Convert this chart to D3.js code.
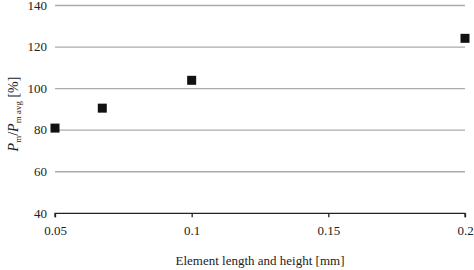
<!DOCTYPE html>
<html>
<head>
<meta charset="utf-8">
<script src="https://cdn.jsdelivr.net/npm/d3@7"></script>
<style>
  body { margin: 0; background: #fff; }
  svg { display: block; }
  text { font-family: "Liberation Serif", "DejaVu Serif", serif; fill: #222; }
</style>
</head>
<body>
<svg id="chart"></svg>
<script>
const elementSize = [0.05, 0.0673, 0.1, 0.2]
const pressureRatio = [81, 90.6, 104, 124.2]
const xTicks = [0.05, 0.1, 0.15, 0.2]
const yTicks = [40, 60, 80, 100, 120, 140]

const width = 474
const height = 270
const margins = {left: 55, right: 9, top: 5.5, bottom: 56.7}

const svg = d3.select("#chart").attr("width", width).attr("height", height)

const scaleX = d3.scaleLinear().domain([0.05, 0.2]).range([margins.left, width - margins.right])
const scaleY = d3.scaleLinear().domain([40, 140]).range([height - margins.bottom, margins.top])

// grid lines
svg.append("g")
    .selectAll("line")
    .data(yTicks.filter(d => d > 40))
    .join("line")
    .attr("x1", scaleX(0.05))
    .attr("x2", scaleX(0.2))
    .attr("y1", d => scaleY(d))
    .attr("y2", d => scaleY(d))
    .attr("stroke", "#a7adad")
    .attr("stroke-width", 1.3)

// y axis labels
svg.append("g")
    .selectAll("text")
    .data(yTicks)
    .join("text")
    .attr("x", margins.left - 8)
    .attr("y", d => scaleY(d))
    .attr("dy", "0.33em")
    .attr("text-anchor", "end")
    .attr("font-size", 13)
    .text(d => d)

// x axis
let xAxis = d3.axisBottom(scaleX).tickValues(xTicks).tickSize(4).tickFormat(d => d)
let xg = svg.append("g")
    .attr("transform", `translate(0, ${scaleY(40)})`)
    .call(xAxis)
xg.select(".domain").attr("stroke", "#222").attr("stroke-width", 1.3).attr("d", `M${scaleX(0.05)},4V0H${scaleX(0.2)}V4`)
xg.selectAll(".tick line").attr("stroke", "#222").attr("stroke-width", 1.3)
xg.selectAll(".tick text")
    .attr("font-family", "Liberation Serif, serif")
    .attr("font-size", 13)
    .attr("fill", "#222")
    .attr("y", 12)

// points
const pts = elementSize.map((d, i) => ({x: d, y: pressureRatio[i]}))
const sz = 9
svg.append("g")
    .selectAll("rect")
    .data(pts)
    .join("rect")
    .attr("x", d => scaleX(d.x) - sz / 2)
    .attr("y", d => scaleY(d.y) - sz / 2)
    .attr("width", sz)
    .attr("height", sz)
    .attr("fill", "#111")

// axis titles
svg.append("text")
    .attr("x", 260)
    .attr("y", 265)
    .attr("text-anchor", "middle")
    .attr("font-size", 13)
    .text("Element length and height [mm]")

let yl = svg.append("text")
    .attr("transform", "translate(18, 114) rotate(-90)")
    .attr("text-anchor", "middle")
    .attr("font-size", 14)
yl.append("tspan").attr("font-style", "italic").text("P")
yl.append("tspan").attr("font-size", 9).attr("dy", 3).text("m")
yl.append("tspan").attr("dy", -3).text("/")
yl.append("tspan").attr("font-style", "italic").text("P")
yl.append("tspan").attr("font-size", 9).attr("dy", 3).text("m avg")
yl.append("tspan").attr("dy", -3).text(" [%]")
</script>
</body>
</html>
